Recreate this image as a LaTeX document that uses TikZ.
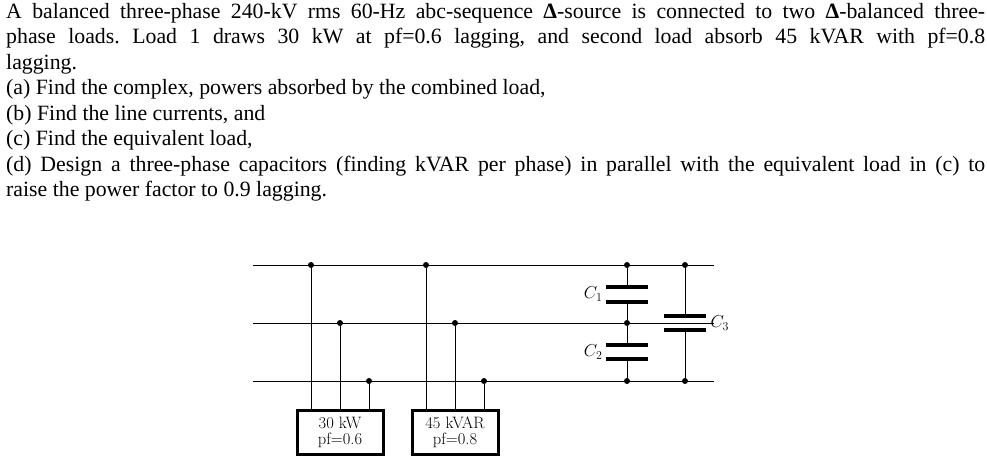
\documentclass[tikz,border=0pt]{standalone}
\usepackage{fontspec}
\setmainfont{Liberation Serif}
\newfontfamily\lmfont{Latin Modern Roman}
\frenchspacing
\begin{document}
\begin{tikzpicture}[x=1pt,y=-1pt,
 wire/.style={line width=1pt},
 dot/.style={circle,fill,inner sep=0pt,minimum size=6pt},
 plate/.style={line width=3.5pt},
 loadbox/.style={draw,line width=3pt,minimum width=86pt,minimum height=44pt,align=center,font=\lmfont\fontsize{16.5}{16}\selectfont,inner sep=1pt},
 lab/.style={font=\lmfont\fontsize{18}{18}\selectfont}]
\useasboundingbox (0,0) rectangle (987,460);
\node[anchor=north west,inner sep=0pt,text width=979pt,align=justify,font=\fontsize{21.8}{25.5}\selectfont] (txt) at (6,3)
{A balanced three-phase 240-kV rms 60-Hz abc-sequence \textbf{Δ}-source is connected to two \textbf{Δ}-balanced three-\linebreak phase loads. Load 1 draws 30 kW at pf=0.6 lagging, and second load absorb 45 kVAR with pf=0.8\linebreak lagging.\\
(a) Find the complex, powers absorbed by the combined load,\\
(b) Find the line currents, and\\
(c) Find the equivalent load,\\
(d) Design a three-phase capacitors (finding kVAR per phase) in parallel with the equivalent load in (c) to\linebreak raise the power factor to 0.9 lagging.};
% lines
\coordinate (aL) at (253,265); \coordinate (aR) at (714,265);
\coordinate (bL) at (253,323); \coordinate (bR) at (714,323);
\coordinate (cL) at (253,381); \coordinate (cR) at (714,381);
\draw[wire] (aL)--(aR); \draw[wire] (bL)--(bR); \draw[wire] (cL)--(cR);
\node[loadbox] (L1) at (340,432) {30 kW\\pf=0.6};
\node[loadbox] (L2) at (455,432) {45 kVAR\\pf=0.8};
\foreach \n/\x/\y in {a1/311/265,b1/340/323,c1/369/381,a2/426/265,b2/455/323,c2/484/381}
  \node[dot] (\n) at (\x,\y) {};
\draw[wire] (a1)--(a1|-L1.north); \draw[wire] (b1)--(b1|-L1.north); \draw[wire] (c1)--(c1|-L1.north);
\draw[wire] (a2)--(a2|-L2.north); \draw[wire] (b2)--(b2|-L2.north); \draw[wire] (c2)--(c2|-L2.north);
% capacitors
\node[dot] (ca) at (627,265) {}; \node[dot] (cb) at (627,323) {}; \node[dot] (cc) at (627,381) {};
\node[dot] (da) at (685,265) {}; \node[dot] (dc) at (685,381) {};
\coordinate (p1) at (627,287); \coordinate (p2) at (627,302);
\coordinate (p3) at (627,345); \coordinate (p4) at (627,359);
\coordinate (p5) at (685,316); \coordinate (p6) at (685,330);
\draw[wire] (ca)--(p1) (p2)--(cb)--(p3) (p4)--(cc) (da)--(p5) (p6)--(dc);
\foreach \p in {p1,p2,p3,p4,p5,p6} \draw[plate] ([xshift=-21pt]\p)--([xshift=21pt]\p);
\node[lab,anchor=east] (C1) at (606,294) {$C_1$};
\node[lab,anchor=east] (C2) at (606,352) {$C_2$};
\node[lab,anchor=west] (C3) at (707,323) {$C_3$};
\end{tikzpicture}
\end{document}
